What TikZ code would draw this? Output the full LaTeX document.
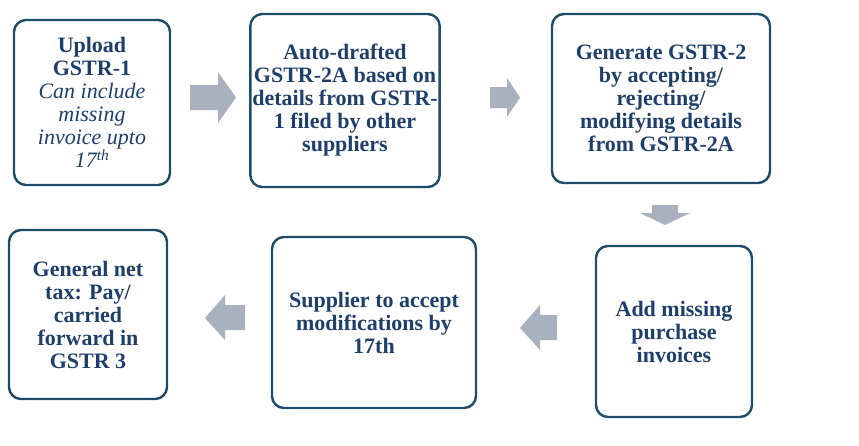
\documentclass[tikz,border=0pt]{standalone}
\usepackage{fontspec}
\setmainfont{Liberation Serif}
\definecolor{bord}{HTML}{1E4D6B}
\definecolor{txt}{HTML}{1F3F6B}
\definecolor{arr}{HTML}{A8B1BD}
\tikzset{
  box/.style={draw=bord,line width=2.4pt,rounded corners=12pt,fill=white,text=txt,font=\bfseries\fontsize{22}{23}\selectfont,align=center,inner sep=2pt},
  arrw/.style={fill=arr,draw=none},
}
\begin{document}
\begin{tikzpicture}[x=1pt,y=-1pt]
\useasboundingbox (0,0) rectangle (859,445);
\node[box,minimum width=156pt,minimum height=165pt] (b1) at (92,102.5) {Upload\\GSTR-1\\\mdseries\itshape Can include\\\mdseries\itshape missing\\\mdseries\itshape invoice upto\\\mdseries\itshape 17\textsuperscript{th}};
\node[box,minimum width=174pt,minimum height=173pt] (b2) at (345,100.5) {Auto-drafted\\GSTR-2A based on\\details from GSTR-\\1 filed by other\\suppliers};
\node[box,minimum width=218pt,minimum height=169pt] (b3) at (661,98.5) {Generate GSTR-2\\by accepting/\\rejecting/\\modifying details\\from GSTR-2A};
\node[box,minimum width=156pt,minimum height=171pt] (b4) at (674,331.5) {Add missing\\purchase\\invoices};
\node[box,minimum width=204pt,minimum height=171pt] (b5) at (374,322.5) {Supplier to accept\\modifications by\\17th};
\node[box,minimum width=158pt,minimum height=169pt] (b6) at (88,314.5) {General net\\tax: Pay/\\carried\\forward in\\GSTR 3};
\fill[arrw] (190,85) -- (218,85) -- (218,72) -- (236,97.5) -- (218,123) -- (218,110) -- (190,110) -- cycle;
\fill[arrw] (490,87) -- (507,87) -- (507,78) -- (520,97.5) -- (507,117) -- (507,108) -- (490,108) -- cycle;
\fill[arrw] (652,205) -- (678,205) -- (678,213) -- (690,213) -- (665,225) -- (640,213) -- (652,213) -- cycle;
\fill[arrw] (557,315) -- (540,315) -- (540,305) -- (520,328) -- (540,350) -- (540,340) -- (557,340) -- cycle;
\fill[arrw] (245,305) -- (225,305) -- (225,295) -- (205,318) -- (225,340) -- (225,330) -- (245,330) -- cycle;
\end{tikzpicture}
\end{document}
